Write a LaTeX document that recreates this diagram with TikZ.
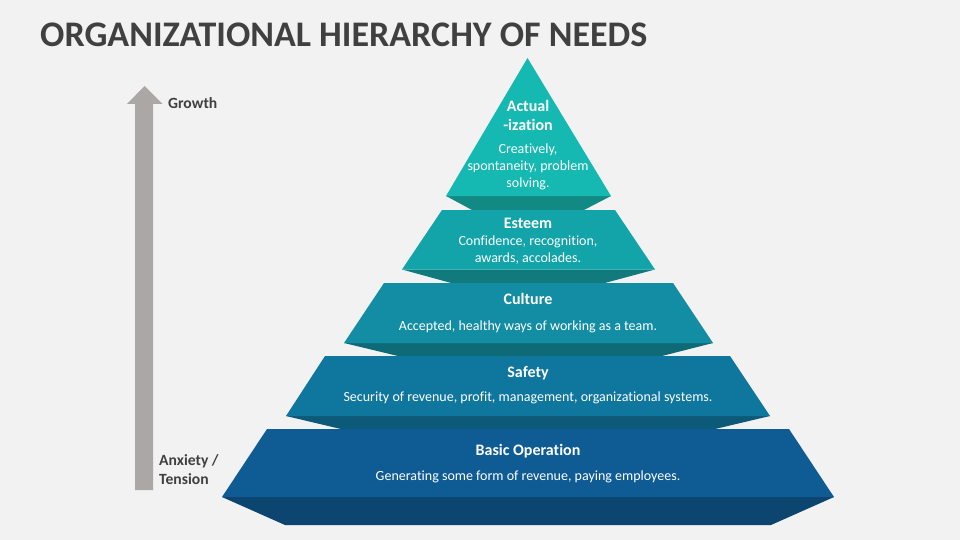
\documentclass[tikz,border=0pt]{standalone}
\usepackage{fontspec}
\setmainfont{Carlito}[Ligatures=CommonOff]
\definecolor{bg}{HTML}{F2F2F2}
\definecolor{txtdark}{HTML}{404040}
\definecolor{arrowgray}{HTML}{ABA7A6}
\definecolor{fA}{HTML}{16B9B1}
\definecolor{uA}{HTML}{128A84}
\definecolor{fB}{HTML}{13A4AA}
\definecolor{uB}{HTML}{107A7C}
\definecolor{fC}{HTML}{138DA4}
\definecolor{uC}{HTML}{0F6A78}
\definecolor{fD}{HTML}{0F769E}
\definecolor{uD}{HTML}{0C5A78}
\definecolor{fE}{HTML}{0F5C94}
\definecolor{uE}{HTML}{0C4570}
\tikzset{
  lvltitle/.style={text=white, font=\fontsize{16}{19.5}\selectfont\bfseries, align=center, inner sep=0pt, anchor=base},
  lvldesc/.style={text=white, font=\fontsize{14}{17}\selectfont, align=center, inner sep=0pt, anchor=base},
  sidelabel/.style={text=txtdark, font=\fontsize{15.6}{19}\selectfont\bfseries, align=left, inner sep=0pt, anchor=base west},
}
\begin{document}
\begin{tikzpicture}[x=1pt,y=-1pt]
\useasboundingbox (0,0) rectangle (960,540);
\fill[bg] (0,0) rectangle (960,540);

% title
\node[text=txtdark, font=\fontsize{36}{40}\selectfont\bfseries, inner sep=0pt, anchor=base west] (title) at (40,47) {ORGANIZATIONAL HIERARCHY OF NEEDS};

% growth arrow
\fill[arrowgray] (135,490) -- (135,104) -- (127,104) -- (144.5,86) -- (162.5,104) -- (153,104) -- (153,490) -- cycle;
\node[sidelabel] (growth) at (168,109) {Growth};
\node[sidelabel] (anxiety) at (159,484) {Anxiety /\\Tension};

% level 1: Actualization
\fill[uA] (446,196) -- (611,196) -- (583,210.5) -- (473,210.5) -- cycle;
\fill[fA] (527.5,58) -- (611,196) -- (446,196) -- cycle;
% level 2: Esteem
\fill[uB] (402,269.5) -- (655,269.5) -- (603,283.5) -- (453,283.5) -- cycle;
\fill[fB] (442,210) -- (615,210) -- (655,269.5) -- (402,269.5) -- cycle;
% level 3: Culture
\fill[uC] (344,343) -- (713,343) -- (660,356.5) -- (400,356.5) -- cycle;
\fill[fC] (384,283) -- (673,283) -- (713,343) -- (344,343) -- cycle;
% level 4: Safety
\fill[uD] (286,416) -- (770,416) -- (713,429.5) -- (343,429.5) -- cycle;
\fill[fD] (325,356) -- (730,356) -- (770,416) -- (286,416) -- cycle;
% level 5: Basic Operation
\fill[uE] (222,497) -- (834,497) -- (771,525) -- (285,525) -- cycle;
\fill[fE] (267,429) -- (789,429) -- (834,497) -- (222,497) -- cycle;

% texts (multi-line nodes are placed at the baseline of their last line)
\node[lvltitle] (t1) at (528,131) {Actual\\-ization};
\node[lvldesc] (d1) at (528,187) {Creatively,\\spontaneity, problem\\solving.};
\node[lvltitle] (t2) at (528,228) {Esteem};
\node[lvldesc] (d2) at (528,262) {Confidence, recognition,\\awards, accolades.};
\node[lvltitle] (t3) at (528,304) {Culture};
\node[lvldesc] (d3) at (528,330.5) {Accepted, healthy ways of working as a team.};
\node[lvltitle] (t4) at (528,377) {Safety};
\node[lvldesc] (d4) at (528,401) {Security of revenue, profit, management, organizational systems.};
\node[lvltitle] (t5) at (528,455) {Basic Operation};
\node[lvldesc] (d5) at (528,480) {Generating some form of revenue, paying employees.};
\end{tikzpicture}
\end{document}
